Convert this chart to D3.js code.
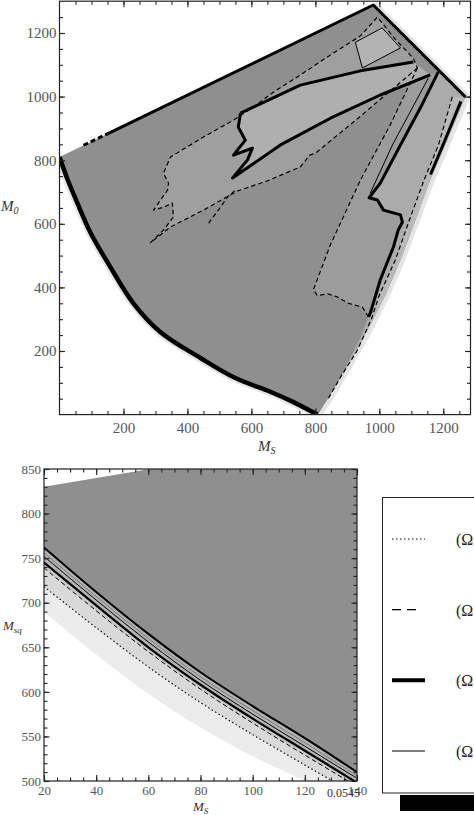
<!DOCTYPE html>
<html>
<head>
<meta charset="utf-8">
<script src="https://cdn.jsdelivr.net/npm/d3@7"></script>
<style>
body{margin:0;background:#fff}
svg text{font-family:"Liberation Serif","DejaVu Serif",serif}
</style>
</head>
<body>
<svg id="chart" width="474" height="815"></svg>
<script>
//TOP PANEL DATA  (points are [M_S, M_0])
var topOuterEdge = [[0,810],[981,1288],[1269,999],[1206,848],[1159,738],[1113,612],[1066,486],[1019,376],[956,251],[894,141],[847,62],[809,2]]
var topArc = [[806,0],[730,40],[659,72],[550,115],[441,178],[316,259],[231,350],[159,464],[97,572],[56,665],[25,740],[0,810]]
var topEdgeLine = [[150,883],[981,1288],[1269,999]]
var topEdgeStart = [[75,847],[150,883]]

//region inside the upper dashed contour
var m1Upper = [[284,540],[325,580],[356,621],[353,665],[325,652],[294,643],[316,675],[338,706],[341,728],[325,759],[347,810],[450,873],[544,926],[606,967],[669,1014],[753,1068],[847,1131],[941,1191],[994,1250],[1050,1180],[1106,1121],[1119,1090]]
var m1Lower = [[1119,1090],[930,929],[800,822],[780,815],[770,800],[753,779],[650,735],[556,703],[450,643],[347,590],[284,540]]
var shortDash = [[466,602],[503,652],[525,684],[550,706]]

//light band between the two thick contours
var bandUpper = [[566,948],[753,1036],[941,1081],[1106,1109]]
var bandLower = [[1159,1068],[1003,1005],[847,932],[691,848],[541,744]]
var bandJag = [[541,744],[588,801],[603,838],[544,816],[581,863],[559,904],[566,948]]
var smallBox = [[925,1171],[1009,1216],[1066,1153],[947,1090]]

//right side
var vRight = [[1119,1090],[1034,911],[941,738],[847,534],[794,393],[806,374],[838,380],[869,370],[900,351],[947,338],[966,307]]
var t1 = [[1184,1077],[1128,964],[1066,848],[1003,728],[968,682],[994,675],[1013,643],[1066,628],[1072,605],[1059,580],[1044,527],[1003,424],[972,320],[966,307]]
var t1Tail = [[940,240],[890,140],[847,62]]
var rightDashed = [[1228,999],[1185,848],[1140,738],[1094,612],[1050,486],[1000,376],[975,300],[930,200],[880,120],[840,50]]
var rightThick = [[1255,985],[1200,850],[1160,755]]
var thinParallel = [[1153,1058],[1041,848],[972,697]]

var topXMajor = [200,400,600,800,1000,1200]
var topYMajor = [200,400,600,800,1000,1200]

//BOTTOM PANEL DATA
var botX = [20,40,60,80,100,120,140]
var darkEdge = [762,712,665,622,584,548,510]
var thinGray = [756,707,660,617,579,543,506]
var thinBlack = [752,703,656,613,575,539,503]
var thickLine = [745,697,650,608,570,534,498]
var dashedLine = [739,691,645,603,565,529,494]
var dottedLine = [718,672,628,588,552,518,484]
var lightEdge = [690,642,598,560,528,500,470]
var botTopEdge = [[20,830],[140,889]]

var botXMajor = [20,40,60,80,100,120,140]
var botYMajor = [500,550,600,650,700,750,800,850]

var legendKeys = ["dotted","dashed","thick","thin"]
var legendText = ["(Ω","(Ω","(Ω","(Ω"]

var svg = d3.select("#chart")
var defs = svg.append("defs")

//Styles for the four contour kinds
function styleLine(sel, kind){
  sel.attr("fill","none").attr("stroke","#000").attr("stroke-linejoin","round")
  if (kind == "dotted"){sel.attr("stroke-width",1.1).attr("stroke-dasharray","1.5,2.5")}
  else if (kind == "dashed"){sel.attr("stroke-width",1.2).attr("stroke-dasharray","4.5,3")}
  else if (kind == "thick"){sel.attr("stroke-width",3)}
  else {sel.attr("stroke-width",1)}
  return sel
}

//Frame ticks on all four sides, pointing in
function drawAxes(g, x, y, xMajor, xMinor, yMajor, yMinor, fontSize, xPad, yPad){
  var x0 = x.range()[0], x1 = x.range()[1], y0 = y.range()[0], y1 = y.range()[1]
  var fmt = d3.format("d")
  g.append("g").attr("transform","translate(0,"+y0+")")
    .call(d3.axisBottom(x).tickValues(xMajor).tickSize(-6).tickPadding(xPad).tickFormat(fmt))
  g.append("g").attr("transform","translate(0,"+y0+")")
    .call(d3.axisBottom(x).tickValues(xMinor).tickSize(-3.5).tickFormat(""))
  g.append("g").attr("transform","translate(0,"+y1+")")
    .call(d3.axisTop(x).tickValues(xMajor).tickSize(-6).tickFormat(""))
  g.append("g").attr("transform","translate(0,"+y1+")")
    .call(d3.axisTop(x).tickValues(xMinor).tickSize(-3.5).tickFormat(""))
  g.append("g").attr("transform","translate("+x0+",0)")
    .call(d3.axisLeft(y).tickValues(yMajor).tickSize(-5.5).tickPadding(yPad).tickFormat(fmt))
  g.append("g").attr("transform","translate("+x0+",0)")
    .call(d3.axisLeft(y).tickValues(yMinor).tickSize(-3.5).tickFormat(""))
  g.append("g").attr("transform","translate("+x1+",0)")
    .call(d3.axisRight(y).tickValues(yMajor).tickSize(-5.5).tickFormat(""))
  g.append("g").attr("transform","translate("+x1+",0)")
    .call(d3.axisRight(y).tickValues(yMinor).tickSize(-3.5).tickFormat(""))
  g.selectAll(".domain").remove()
  g.selectAll(".tick line").attr("stroke","#222").attr("stroke-width",1.1)
  g.selectAll(".tick text").attr("fill","#555").attr("font-size",fontSize)
  g.append("rect").attr("x",x0).attr("y",y1).attr("width",x1-x0).attr("height",y0-y1)
    .attr("fill","none").attr("stroke","#222").attr("stroke-width",1.2)
}

//TOP PANEL
var xTop = d3.scaleLinear().domain([0,1285]).range([59.5,470.5])
var yTop = d3.scaleLinear().domain([0,1300]).range([414.6,1.2])
var lineTop = d3.line().x(function(d){return xTop(d[0])}).y(function(d){return yTop(d[1])})
var arcTop = d3.line().x(function(d){return xTop(d[0])}).y(function(d){return yTop(d[1])}).curve(d3.curveCatmullRom)

defs.append("clipPath").attr("id","clipTop").append("rect")
  .attr("x",59.5).attr("y",1.2).attr("width",411).attr("height",413.4)
var gTop = svg.append("g").attr("clip-path","url(#clipTop)")

var outerPath = lineTop(topOuterEdge) + arcTop(topArc).replace(/^M/,"L") + "Z"
var haloPath = lineTop(topOuterEdge.slice(1)) + arcTop(topArc).replace(/^M/,"L")

//faint halo round the allowed region
gTop.append("path").attr("d", haloPath)
  .attr("fill","none").attr("stroke","#e4e4e4").attr("stroke-width",9).attr("stroke-linejoin","round")

gTop.append("path").attr("d", outerPath).attr("fill","#8f8f8f")
gTop.append("path").attr("d", lineTop(m1Upper.concat(m1Lower)) + "Z").attr("fill","#9f9f9f")
gTop.append("path").attr("d", lineTop(vRight.concat(t1.slice().reverse()).concat([[1159,1068]])) + "Z").attr("fill","#9c9c9c")
gTop.append("path").attr("d", lineTop(t1.concat(t1Tail).concat(topOuterEdge.slice(2).reverse().slice(1)).concat([[1190,1078]])) + "Z").attr("fill","#ababab")
gTop.append("path").attr("d", lineTop(rightDashed.concat(topOuterEdge.slice(2).reverse())) + "Z").attr("fill","#b9b9b9")
gTop.append("path").attr("d", lineTop(bandUpper.concat(bandLower).concat(bandJag)) + "Z").attr("fill","#afafaf")
gTop.append("path").attr("d", lineTop(smallBox) + "Z").attr("fill","#b3b3b3")

//contour lines
styleLine(gTop.append("path").attr("d", lineTop(m1Upper)), "dashed")
styleLine(gTop.append("path").attr("d", lineTop(m1Lower)), "dashed")
styleLine(gTop.append("path").attr("d", lineTop(shortDash)), "dashed")
styleLine(gTop.append("path").attr("d", lineTop(vRight)), "dashed")
styleLine(gTop.append("path").attr("d", lineTop(rightDashed)), "dashed")
styleLine(gTop.append("path").attr("d", lineTop(bandUpper)), "thick")
styleLine(gTop.append("path").attr("d", lineTop(bandLower.concat(bandJag))), "thick")
styleLine(gTop.append("path").attr("d", lineTop(t1)), "thick")
styleLine(gTop.append("path").attr("d", lineTop(rightThick)), "thick")
styleLine(gTop.append("path").attr("d", lineTop(smallBox) + "Z"), "thin")
styleLine(gTop.append("path").attr("d", lineTop(thinParallel)), "thin")
styleLine(gTop.append("path").attr("d", lineTop(topEdgeLine)), "thick")
styleLine(gTop.append("path").attr("d", lineTop(topEdgeStart)), "thick").attr("stroke-dasharray","5,3")
styleLine(gTop.append("path").attr("d", arcTop(topArc)), "thick").attr("stroke-width",4.5)

var axTop = svg.append("g")
drawAxes(axTop, xTop, yTop, topXMajor, d3.range(50,1285,50), topYMajor, d3.range(50,1300,50), 15, 8, 3)

svg.append("text").attr("x",258).attr("y",451).attr("font-size",15).attr("font-style","italic").attr("fill","#333")
  .text("M").append("tspan").attr("dy",3).attr("font-size",10).text("S")
svg.append("text").attr("x",1).attr("y",211).attr("font-size",15).attr("font-style","italic").attr("fill","#333")
  .text("M").append("tspan").attr("dy",3).attr("font-size",10).text("0")

//BOTTOM PANEL
var xBot = d3.scaleLinear().domain([20,140]).range([44,357])
var yBot = d3.scaleLinear().domain([500,850]).range([781,469])
var lineBot = d3.line().x(function(d){return xBot(d[0])}).y(function(d){return yBot(d[1])})
var curveBot = d3.line().x(function(d){return xBot(d[0])}).y(function(d){return yBot(d[1])}).curve(d3.curveCatmullRom)

function zipBot(vals){
  return botX.map(function(x,i){return [x, vals[i]]})
}
function above(vals){
  return curveBot(zipBot(vals)) + lineBot([[140,900],[20,900]]).replace(/^M/,"L") + "Z"
}

defs.append("clipPath").attr("id","clipBot").append("rect")
  .attr("x",44).attr("y",469).attr("width",313).attr("height",312)
var gBot = svg.append("g").attr("clip-path","url(#clipBot)")

gBot.append("path").attr("d", above(lightEdge)).attr("fill","#ececec")
gBot.append("path").attr("d", above(dottedLine)).attr("fill","#d9d9d9")
gBot.append("path").attr("d", above(dashedLine)).attr("fill","#c9c9c9")
gBot.append("path").attr("d", above(thickLine)).attr("fill","#b3b3b3")
gBot.append("path").attr("d", above(darkEdge)).attr("fill","#8f8f8f")
gBot.append("path").attr("d", lineBot(botTopEdge.concat([[140,900],[20,900]])) + "Z").attr("fill","#fff")

styleLine(gBot.append("path").attr("d", curveBot(zipBot(dottedLine))), "dotted")
styleLine(gBot.append("path").attr("d", curveBot(zipBot(dashedLine))), "dashed").attr("stroke-width",1)
styleLine(gBot.append("path").attr("d", curveBot(zipBot(thickLine))), "thick").attr("stroke-width",2.2)
styleLine(gBot.append("path").attr("d", curveBot(zipBot(thinBlack))), "thin")
styleLine(gBot.append("path").attr("d", curveBot(zipBot(thinGray))), "thin").attr("stroke","#777")
styleLine(gBot.append("path").attr("d", curveBot(zipBot(darkEdge))), "thick").attr("stroke-width",2)

var axBot = svg.append("g")
drawAxes(axBot, xBot, yBot, botXMajor, d3.range(20,141,5), botYMajor, d3.range(500,851,10), 13, 5, 3)

svg.append("text").attr("x",327).attr("y",797).attr("font-size",12).attr("fill","#333").text("0.0545")
svg.append("text").attr("x",193).attr("y",811).attr("font-size",13).attr("font-style","italic").attr("fill","#333")
  .text("M").append("tspan").attr("dy",3).attr("font-size",9).text("S")
svg.append("text").attr("x",3).attr("y",630).attr("font-size",13).attr("font-style","italic").attr("fill","#333")
  .text("M").append("tspan").attr("dy",3).attr("font-size",9).text("sq")

//LEGEND
var rowY = d3.scaleLinear().domain([0,3]).range([539,751])
var gLeg = svg.append("g")
gLeg.append("rect").attr("x",382.5).attr("y",497.5).attr("width",120).attr("height",295.5)
  .attr("fill","#fff").attr("stroke","#222").attr("stroke-width",1)
legendKeys.forEach(function(k,i){
  var x2 = (k == "dashed") ? 417 : 425
  var ln = gLeg.append("line").attr("x1",392).attr("x2",x2).attr("y1",rowY(i)).attr("y2",rowY(i))
  styleLine(ln, k)
  if (k == "dashed"){ln.attr("stroke-dasharray","9,6")}
  if (k == "thick"){ln.attr("stroke-width",4)}
  gLeg.append("text").attr("x",456).attr("y",rowY(i)+6).attr("font-size",16).attr("fill","#222").text(legendText[i])
})
gLeg.append("rect").attr("x",400).attr("y",795).attr("width",74).attr("height",16).attr("fill","#000")
</script>
</body>
</html>
